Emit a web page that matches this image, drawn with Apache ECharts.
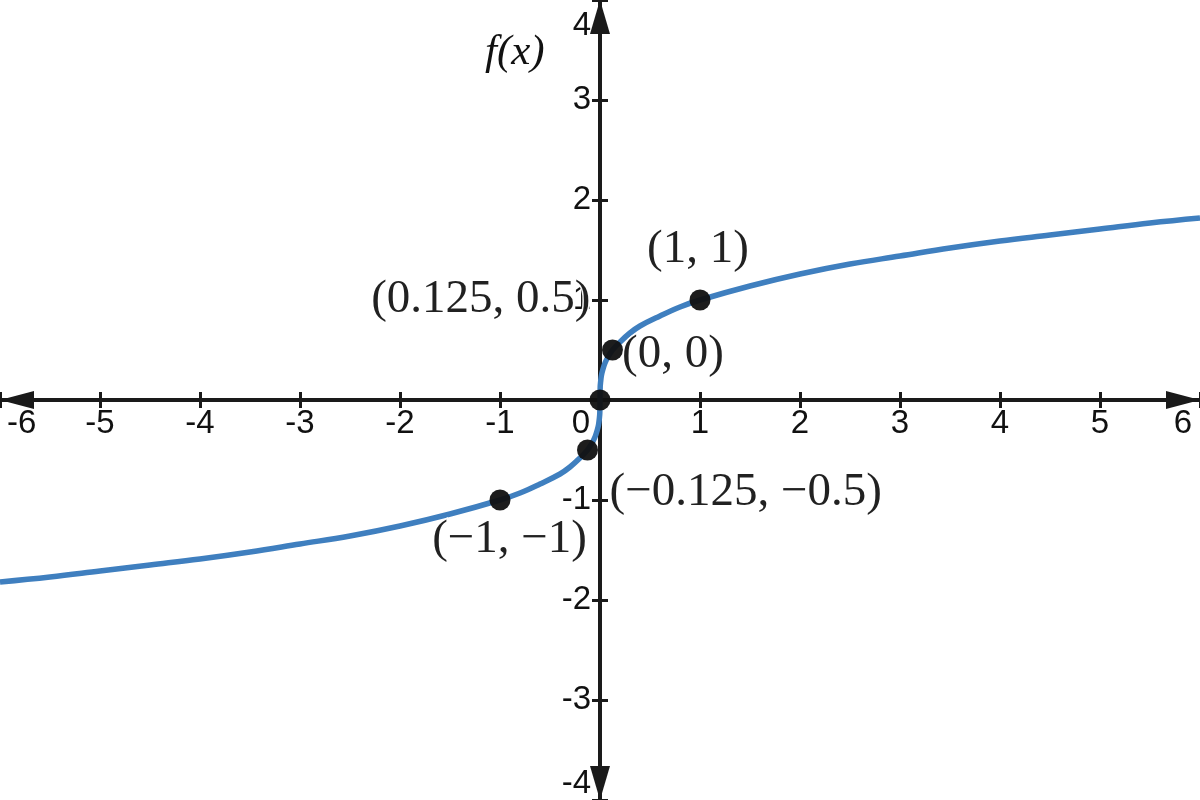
<!DOCTYPE html>
<html>
<head>
<meta charset="utf-8">
<style>html,body{margin:0;padding:0;background:#fff}#c{width:1200px;height:800px}</style>
<script src="https://cdn.jsdelivr.net/npm/echarts@6/dist/echarts.min.js"></script>
</head>
<body>
<div id="c"></div>
<script>
// Curve samples (cube-root shaped curve)
var curveX = [-6, -5.5, -5, -4.5, -4, -3.5, -3, -2.5, -2, -1.5, -1, -0.8, -0.6, -0.4, -0.3, -0.2, -0.125, -0.08, -0.05, -0.03, -0.015, -0.006, -0.002, 0,
              0.002, 0.006, 0.015, 0.03, 0.05, 0.08, 0.125, 0.2, 0.3, 0.4, 0.6, 0.8, 1, 1.5, 2, 2.5, 3, 3.5, 4, 4.5, 5, 5.5, 6];
var curveY = [-1.82, -1.77, -1.71, -1.65, -1.59, -1.52, -1.44, -1.36, -1.26, -1.14, -1, -0.93, -0.84, -0.74, -0.67, -0.58, -0.5, -0.43, -0.37, -0.31, -0.25, -0.18, -0.13, 0,
              0.13, 0.18, 0.25, 0.31, 0.37, 0.43, 0.5, 0.58, 0.67, 0.74, 0.84, 0.93, 1, 1.14, 1.26, 1.36, 1.44, 1.52, 1.59, 1.65, 1.71, 1.77, 1.82];
// Marked points
var pointX = [1, 0.125, 0, -0.125, -1];
var pointY = [1, 0.5, 0, -0.5, -1];
var pointLabels = ['(1, 1)', '(0.125, 0.5)', '(0, 0)', '(\u22120.125, \u22120.5)', '(\u22121, \u22121)'];
// Axis tick labels
var xTickLabels = ['-6', '-5', '-4', '-3', '-2', '-1', '0', '1', '2', '3', '4', '5', '6'];
var yTickLabels = ['-4', '-3', '-2', '-1', '', '1', '2', '3', '4'];
var yAxisTitle = 'f(x)';

// label placement (style, separate from data)
var labelPlacement = [
  {align: 'center', offset: [-2, -50]},
  {align: 'right', offset: [-22, -50]},
  {align: 'left', offset: [22, -45]},
  {align: 'left', offset: [22, 43]},
  {align: 'right', offset: [87, 40]}
];

var curveData = curveX.map(function (x, i) { return [x, curveY[i]]; });
var pointData = pointX.map(function (x, i) {
  return {
    value: [x, pointY[i]],
    label: {
      show: true,
      position: 'inside',
      formatter: pointLabels[i],
      align: labelPlacement[i].align,
      verticalAlign: 'middle',
      offset: labelPlacement[i].offset
    }
  };
});

var axisColor = '#1a1a1a';
var tickFont = 'Liberation Sans, Arial, sans-serif';
var tickSize = 33;
function richStyle(pad) { return {fontSize: tickSize, fontFamily: tickFont, color: '#111', padding: pad}; }
var W = 1200, H = 800;

var chart = echarts.init(document.getElementById('c'));
chart.setOption({
  animation: false,
  backgroundColor: '#fff',
  title: {
    text: yAxisTitle,
    left: 480,
    top: 26,
    textStyle: {fontFamily: 'Liberation Serif, Times New Roman, serif', fontStyle: 'italic', fontWeight: 'normal', fontSize: 43, color: '#111'}
  },
  grid: {left: 0, right: 0, top: 0, bottom: 0, containLabel: false, outerBoundsMode: 'none'},
  xAxis: [{
    type: 'value', min: -6, max: 6, interval: 1, position: 'bottom', offset: -H / 2,
    splitLine: {show: false},
    axisLine: {onZero: false, lineStyle: {color: axisColor, width: 4}, symbol: ['triangle', 'triangle'], symbolSize: [18, 34], symbolOffset: [17, -17]},
    axisTick: {show: true, inside: false, length: 8, lineStyle: {color: axisColor, width: 3}},
    axisLabel: {
      margin: 7,
      color: '#111', fontSize: tickSize, fontFamily: tickFont,
      alignMinLabel: 'left', alignMaxLabel: 'right',
      formatter: function (v) {
        var k = Math.round(v);
        var s = xTickLabels[k + 6];
        if (k === 0) return '{z|' + s + '}';
        if (k === -6) return '{l|' + s + '}';
        if (k === 6) return '{r|' + s + '}';
        return '{n|' + s + '}';
      },
      rich: {n: richStyle([0, 0, 0, 0]), z: richStyle([0, 38, 0, 0]), l: richStyle([0, 0, 0, 7]), r: richStyle([0, 8, 0, 0])}
    }
  }, {
    type: 'value', min: -6, max: 6, interval: 1, position: 'bottom', offset: -H / 2,
    splitLine: {show: false},
    axisLine: {show: false, onZero: false},
    axisTick: {show: true, inside: true, length: 8, lineStyle: {color: axisColor, width: 3}},
    axisLabel: {show: false}
  }],
  yAxis: [{
    type: 'value', min: -4, max: 4, interval: 1, position: 'left', offset: -W / 2,
    splitLine: {show: false},
    axisLine: {onZero: false, lineStyle: {color: axisColor, width: 4}, symbol: ['triangle', 'triangle'], symbolSize: [20, 34], symbolOffset: [17, -17]},
    axisTick: {show: true, inside: false, length: 8, lineStyle: {color: axisColor, width: 3}},
    axisLabel: {
      margin: 9,
      color: '#111', fontSize: tickSize, fontFamily: tickFont,
      formatter: function (v) {
        var k = Math.round(v);
        var s = yTickLabels[k + 4];
        if (s === '') return '';
        if (k === 4) return '{t|' + s + '}';
        if (k === -4) return '{b|' + s + '}';
        return '{n|' + s + '}';
      },
      rich: {n: richStyle([0, 0, 0, 0]), t: richStyle([52, 0, 0, 0]), b: richStyle([0, 0, 33, 0])}
    }
  }, {
    type: 'value', min: -4, max: 4, interval: 1, position: 'left', offset: -W / 2,
    splitLine: {show: false},
    axisLine: {show: false, onZero: false},
    axisTick: {show: true, inside: true, length: 8, lineStyle: {color: axisColor, width: 3}},
    axisLabel: {show: false}
  }],
  series: [{
    type: 'line',
    data: curveData,
    showSymbol: false,
    smooth: 0.4,
    lineStyle: {color: '#3f7fbf', width: 5.5},
    z: 3
  }, {
    type: 'scatter',
    data: pointData,
    symbolSize: 21,
    itemStyle: {color: '#111', opacity: 0.95},
    label: {
      fontFamily: 'Liberation Serif, Times New Roman, serif',
      fontSize: 47,
      color: '#151515',
      textBorderColor: '#fff',
      textBorderWidth: 3
    },
    z: 4
  }]
});
</script>
</body>
</html>
